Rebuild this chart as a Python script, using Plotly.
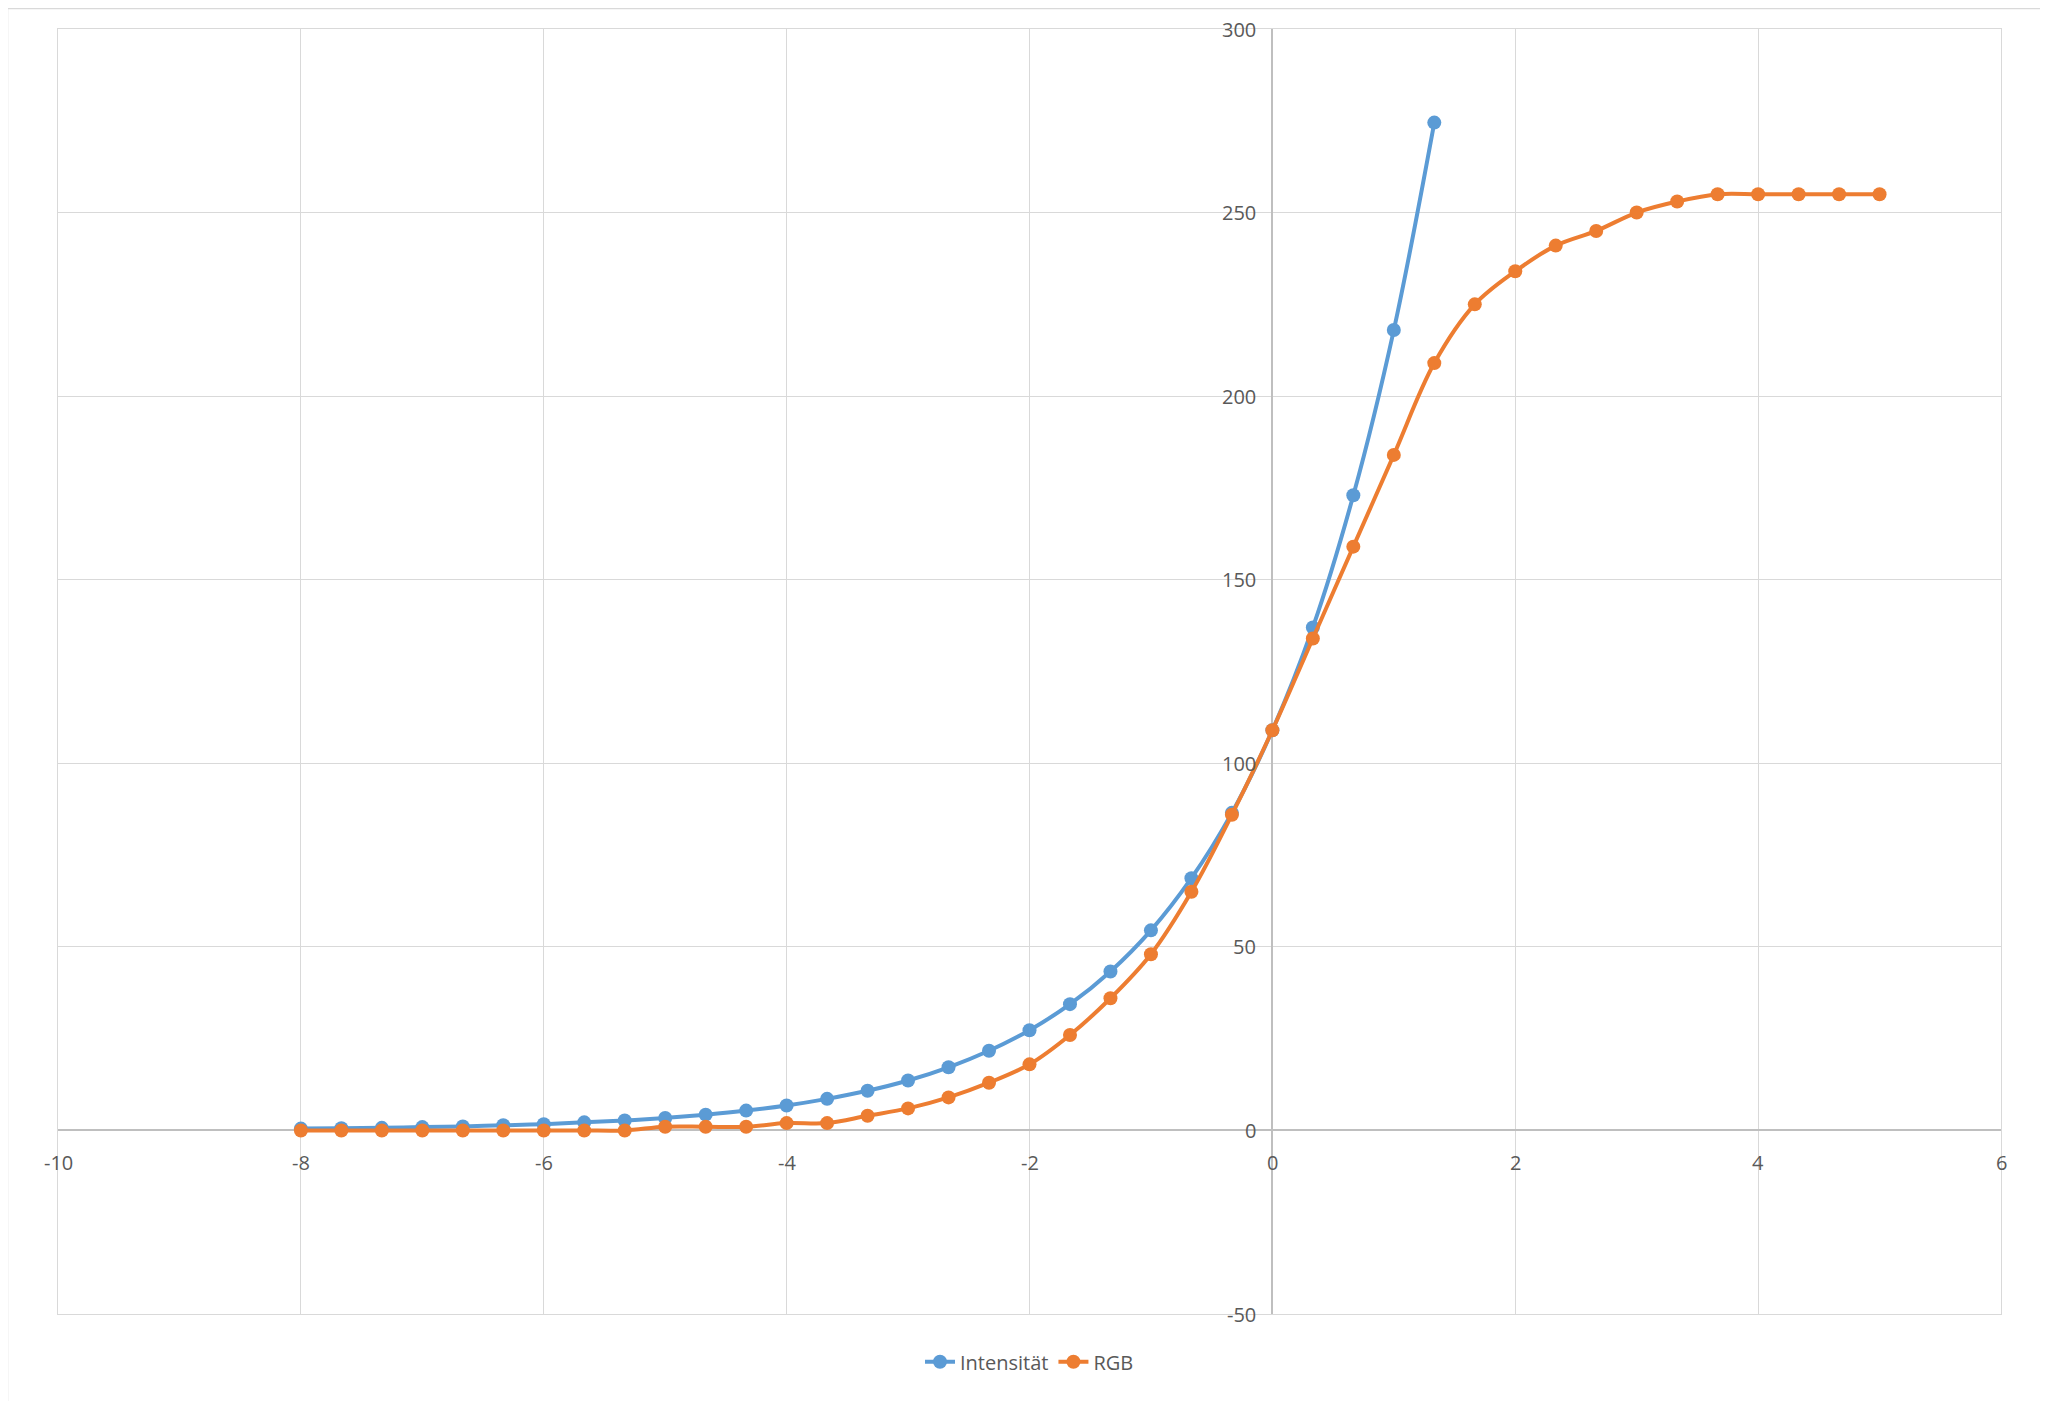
import plotly.graph_objects as go

x_int = [-8 + k/3 for k in range(29)]
y_int = [0.5, 0.6, 0.7, 0.9, 1.1, 1.4, 1.7, 2.2, 2.7, 3.4, 4.3, 5.4, 6.8, 8.6, 10.8, 13.6,
         17.2, 21.7, 27.3, 34.4, 43.3, 54.5, 68.7, 86.5, 109, 137, 173, 218, 274.5]
x_rgb = [-8 + k/3 for k in range(40)]
y_rgb = [0, 0, 0, 0, 0, 0, 0, 0, 0, 1, 1, 1, 2, 2, 4, 6, 9, 13, 18, 26, 36, 48, 65, 86,
         109, 134, 159, 184, 209, 225, 234, 241, 245, 250, 253, 255, 255, 255, 255, 255]
x_ticks = [-10, -8, -6, -4, -2, 0, 2, 4, 6]
y_ticks = [-50, 0, 50, 100, 150, 200, 250, 300]

BLUE = "#5B9BD5"
ORANGE = "#ED7D31"
TXT = "#595959"

fig = go.Figure()
fig.add_trace(go.Scatter(x=x_int, y=y_int, name="Intensität", mode="lines+markers",
                         line=dict(color=BLUE, width=4, shape="spline"),
                         marker=dict(size=14, color=BLUE)))
fig.add_trace(go.Scatter(x=x_rgb, y=y_rgb, name="RGB", mode="lines+markers",
                         line=dict(color=ORANGE, width=4, shape="spline"),
                         marker=dict(size=14, color=ORANGE)))

ann = []
for t in x_ticks:
    ann.append(dict(x=t, y=0, xref="x", yref="y", text=str(t), showarrow=False,
                    yshift=-32, font=dict(color=TXT, size=20)))
for t in y_ticks:
    ann.append(dict(x=0, y=t, xref="x", yref="y", text=str(t), showarrow=False,
                    xanchor="right", xshift=-14, font=dict(color=TXT, size=20)))

fig.update_layout(
    width=2048, height=1401, paper_bgcolor="white", plot_bgcolor="white",
    margin=dict(l=50, r=55, t=21, b=95),
    font=dict(family="Open Sans, Liberation Sans, sans-serif", color=TXT, size=20),
    xaxis=dict(range=[-10, 6], tickvals=x_ticks, showticklabels=False,
               showgrid=True, gridcolor="#D9D9D9", gridwidth=1.3,
               zeroline=True, zerolinecolor="#BFBFBF", zerolinewidth=1.5,
               showline=True, linecolor="#D9D9D9", mirror=True),
    yaxis=dict(range=[-50, 300], tickvals=y_ticks, showticklabels=False,
               showgrid=True, gridcolor="#D9D9D9", gridwidth=1.3,
               zeroline=True, zerolinecolor="#BFBFBF", zerolinewidth=1.5,
               showline=True, linecolor="#D9D9D9", mirror=True),
    legend=dict(orientation="h", x=0.5, xanchor="center", y=-0.022, yanchor="top",
                font=dict(size=20, color=TXT)),
    annotations=ann,
    shapes=[dict(type="rect", xref="paper", yref="paper", x0=-0.026, x1=1.027,
                 y0=-0.072, y1=1.016, line=dict(color="#D9D9D9", width=1.5))],
)
fig.write_html("out.html")
